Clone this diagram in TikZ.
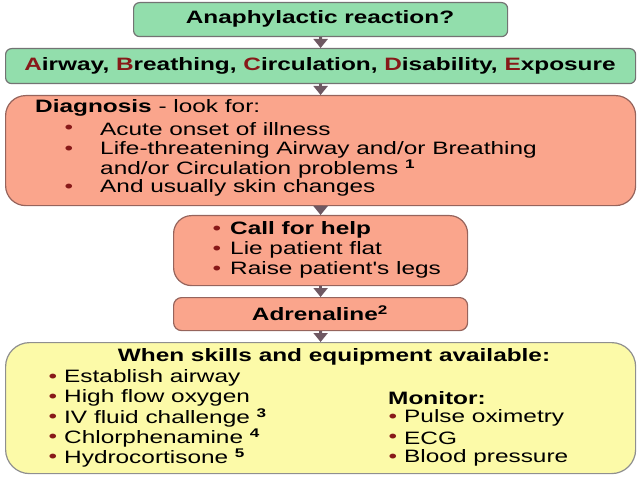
\documentclass[tikz,border=0pt]{standalone}
\usepackage{graphicx}
\usepackage{fontspec}
\setmainfont{Liberation Sans}
\usetikzlibrary{arrows.meta}
\definecolor{boxgreen}{RGB}{146,222,172}
\definecolor{boxsalmon}{RGB}{250,165,140}
\definecolor{boxyellow}{RGB}{252,250,168}
\definecolor{edgegray}{RGB}{115,115,115}
\definecolor{edgebrown}{RGB}{150,100,92}
\definecolor{arrowgray}{RGB}{110,88,98}
\definecolor{letterred}{RGB}{135,25,25}
\newcommand{\wide}[1]{\scalebox{1.36}[1]{#1}}
\newcommand{\hl}[1]{{\color{letterred}#1}}
\newcommand{\dotb}{{\color{letterred}\textbullet}}
\newcommand{\sups}[1]{\textsuperscript{\bfseries #1}}
\begin{document}
\begin{tikzpicture}[x=1bp,y=-1bp,
    flowbox/.style={draw, line width=1.2bp, anchor=north west, inner sep=0pt},
    greenbox/.style={flowbox, fill=boxgreen, draw=edgegray, rounded corners=6bp},
    salmonbox/.style={flowbox, fill=boxsalmon, draw=edgebrown},
    yellowbox/.style={flowbox, fill=boxyellow, draw=edgegray!80, rounded corners=24bp},
    txt/.style={inner sep=0pt, anchor=west, font=\fontsize{18}{20}\selectfont},
    flowarrow/.style={draw=arrowgray, line width=3bp, -{Triangle[width=14bp,length=9bp]}}]
  \useasboundingbox (0,0) rectangle (638,478);
  % boxes
  \node[greenbox, minimum width=374bp, minimum height=34bp] (question) at (133,2) {};
  \node[greenbox, minimum width=630bp, minimum height=35bp] (abcde) at (5,48) {};
  \node[salmonbox, rounded corners=20bp, minimum width=630bp, minimum height=110bp] (diagnosis) at (5,95) {};
  \node[salmonbox, rounded corners=18bp, minimum width=294bp, minimum height=70bp] (help) at (173,215) {};
  \node[salmonbox, rounded corners=8bp, minimum width=294bp, minimum height=33bp] (adrenaline) at (173,297) {};
  \node[yellowbox, minimum width=630bp, minimum height=131bp] (skills) at (5,342) {};
  % arrows
  \draw[flowarrow] (question.south) -- (abcde.north);
  \draw[flowarrow] (abcde.south) -- (diagnosis.north);
  \draw[flowarrow] (diagnosis.south) -- (help.north);
  \draw[flowarrow] (help.south) -- (adrenaline.north);
  \draw[flowarrow] (adrenaline.south) -- (skills.north);
  % texts
  \node[txt, anchor=center] (questiontext) at (320,19) {\wide{\bfseries Anaphylactic reaction?}};
  \node[txt, anchor=center] (abcdetext) at (320,66)
    {\wide{\bfseries \hl{A}irway, \hl{B}reathing, \hl{C}irculation, \hl{D}isability, \hl{E}xposure}};
  \node[txt] (diaghead) at (35,108) {\wide{\textbf{Diagnosis} - look for:}};
  \foreach \y/\name/\txt in {129/acute/{Acute onset of illness},
      150/life/{Life-threatening Airway and/or Breathing},
      169/circ/{and/or Circulation problems \sups{1}},
      188/skin/{And usually skin changes}}
    \node[txt] (diag\name) at (100,\y) {\wide{\txt}};
  \foreach \y [count=\i] in {129,150,188}
    \node[txt, anchor=center] (diagdot\i) at (69,\y) {\wide{\dotb}};
  \foreach \y/\name/\txt in {230/call/{\textbf{Call for help}},
      250/flat/{Lie patient flat},
      270/legs/{Raise patient\textquotesingle s legs}}
    {\node[txt, anchor=center] (dot\name) at (217,\y) {\wide{\dotb}};
     \node[txt] (help\name) at (230,\y) {\wide{\txt}};}
  \node[txt, anchor=center] (adrtext) at (320,313) {\wide{\bfseries Adrenaline\sups{2}}};
  \node[txt, anchor=center] (skillhead) at (334,357) {\wide{\bfseries When skills and equipment available:}};
  \foreach \y/\name/\txt in {378/airway/{Establish airway},
      398/oxygen/{High flow oxygen},
      418/fluid/{IV fluid challenge \sups{3}},
      438/chlor/{Chlorphenamine \sups{4}},
      458/hydro/{Hydrocortisone \sups{5}}}
    {\node[txt, anchor=center] (dot\name) at (53,\y) {\wide{\dotb}};
     \node[txt] (skill\name) at (64,\y) {\wide{\txt}};}
  \node[txt] (monitor) at (388,398) {\wide{\bfseries Monitor:}};
  \foreach \y/\name/\txt in {418/pulse/{Pulse oximetry},
      438/ecg/{ECG},
      458/bp/{Blood pressure}}
    {\node[txt, anchor=center] (dot\name) at (393,\y) {\wide{\dotb}};
     \node[txt] (mon\name) at (404,\y) {\wide{\txt}};}
\end{tikzpicture}
\end{document}
